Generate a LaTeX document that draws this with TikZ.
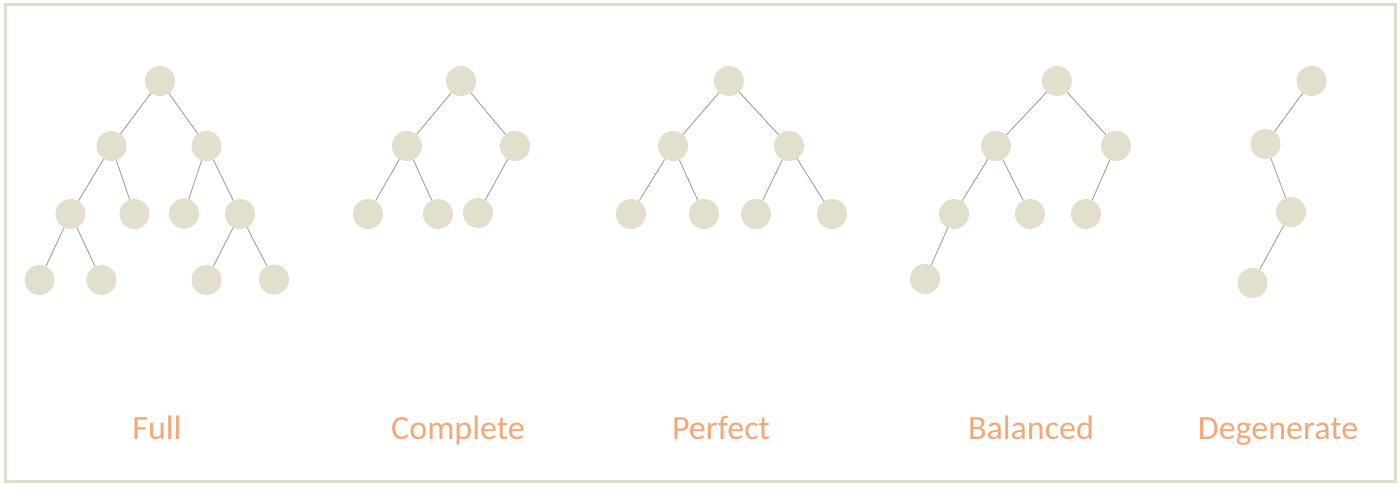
\documentclass[tikz,border=0pt]{standalone}
\usepackage{fontspec}
\setmainfont{Carlito}
\definecolor{nodefill}{HTML}{E2DFCC}
\definecolor{framecol}{HTML}{E0DECB}
\definecolor{edgecol}{HTML}{A0A0A0}
\definecolor{labelcol}{HTML}{F4A878}
\tikzset{
  tn/.style={circle, fill=nodefill, draw=none, minimum size=30pt, inner sep=0pt},
  te/.style={draw=edgecol, line width=0.9pt},
  lbl/.style={text=labelcol, font=\fontsize{34}{38}\selectfont, anchor=base, inner sep=0pt}
}
\begin{document}
\begin{tikzpicture}[x=1pt,y=-1pt]
\useasboundingbox (0,0) rectangle (1400,490);
\draw[framecol, line width=3pt] (5.5,4.7) rectangle (1395,481.5);
% Full
\node[tn] (f0) at (160,81) {};
\node[tn] (f1) at (111.5,146) {};
\node[tn] (f2) at (206.5,146) {};
\node[tn] (f3) at (70.5,214) {};
\node[tn] (f4) at (134.5,214) {};
\node[tn] (f5) at (184,213.5) {};
\node[tn] (f6) at (240,214) {};
\node[tn] (f7) at (39.5,280) {};
\node[tn] (f8) at (101.5,280) {};
\node[tn] (f9) at (206.5,280) {};
\node[tn] (f10) at (274,279.5) {};
\draw[te] (f0)--(f1) (f0)--(f2) (f1)--(f3) (f1)--(f4) (f2)--(f5) (f2)--(f6)
  (f3)--(f7) (f3)--(f8) (f6)--(f9) (f6)--(f10);
% Complete
\node[tn] (c0) at (461,81) {};
\node[tn] (c1) at (407,146) {};
\node[tn] (c2) at (515,146) {};
\node[tn] (c3) at (368,214) {};
\node[tn] (c4) at (438,214) {};
\node[tn] (c5) at (478,213) {};
\draw[te] (c0)--(c1) (c0)--(c2) (c1)--(c3) (c1)--(c4) (c2)--(c5);
% Perfect
\node[tn] (p0) at (729,81) {};
\node[tn] (p1) at (673,146) {};
\node[tn] (p2) at (789,146) {};
\node[tn] (p3) at (631,214) {};
\node[tn] (p4) at (704,214) {};
\node[tn] (p5) at (756,214) {};
\node[tn] (p6) at (832,214) {};
\draw[te] (p0)--(p1) (p0)--(p2) (p1)--(p3) (p1)--(p4) (p2)--(p5) (p2)--(p6);
% Balanced
\node[tn] (b0) at (1057,81) {};
\node[tn] (b1) at (996,146) {};
\node[tn] (b2) at (1116,146) {};
\node[tn] (b3) at (954,214) {};
\node[tn] (b4) at (1030,214) {};
\node[tn] (b5) at (1086,214) {};
\node[tn] (b6) at (925,279) {};
\draw[te] (b0)--(b1) (b0)--(b2) (b1)--(b3) (b1)--(b4) (b2)--(b5) (b3)--(b6);
% Degenerate
\node[tn] (d0) at (1311.5,81) {};
\node[tn] (d1) at (1265.5,144) {};
\node[tn] (d2) at (1291,212) {};
\node[tn] (d3) at (1252.5,283) {};
\draw[te] (d0)--(d1) (d1)--(d2) (d2)--(d3);
% Labels
\node[lbl] (lf) at (157,439) {Full};
\node[lbl] (lc) at (458,439) {Complete};
\node[lbl] (lp) at (721,439) {Perfect};
\node[lbl] (lb) at (1031,439) {Balanced};
\node[lbl] (ld) at (1278,439) {Degenerate};
\end{tikzpicture}
\end{document}
